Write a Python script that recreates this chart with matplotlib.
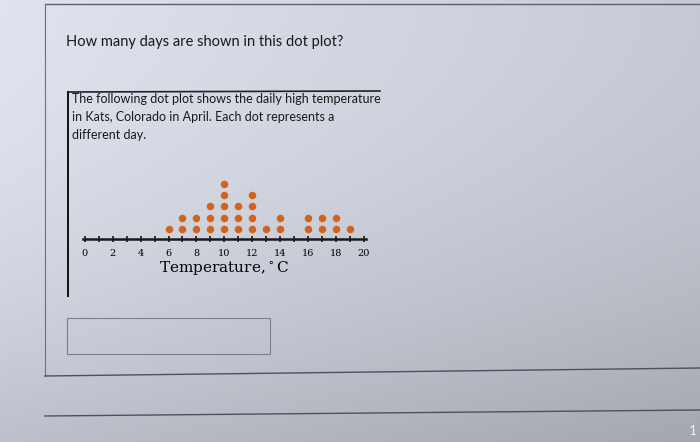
import numpy as np
import matplotlib.pyplot as plt
from matplotlib.patches import Rectangle
from matplotlib.ticker import MultipleLocator

# temperatures (deg C) and how many days had each daily high
temps = [6, 7, 8, 9, 10, 11, 12, 13, 14, 16, 17, 18, 19]
days = [1, 2, 2, 3, 5, 3, 4, 1, 2, 2, 2, 2, 1]

question = "How many days are shown in this dot plot?"
intro = ["The following dot plot shows the daily high temperature",
         "in Kats, Colorado in April. Each dot represents a",
         "different day."]
xlabel = "Temperature,$^\\circ$C"

W, H = 700, 442
fig = plt.figure(figsize=(W / 100, H / 100), dpi=100)

# photographed-screen background: light in the upper left, darker to the lower right
bg = fig.add_axes([0, 0, 1, 1])
gx, gy = np.meshgrid(np.linspace(0, 1, 200), np.linspace(0, 1, 200))
shade = 0.90 - 0.10 * gx - 0.14 * gy ** 2
rgb = np.dstack([shade * 0.97, shade * 0.99, shade * 1.04]).clip(0, 1)
bg.imshow(rgb, extent=[0, W, H, 0], aspect="auto")
bg.set_xlim(0, W)
bg.set_ylim(H, 0)
bg.axis("off")

# page outline and boxes
bg.plot([45, 700], [4, 4], color="#5a6270", lw=1)
bg.plot([45, 45], [4, 376], color="#6a7280", lw=0.8)
bg.plot([45, 700], [376, 368], color="#4a5260", lw=1)
bg.plot([45, 700], [416, 410], color="#4a5260", lw=1)
bg.plot([68, 380], [92, 91], color="#222222", lw=1.2)
bg.plot([68, 68], [92, 296], color="#111111", lw=1.4)
bg.add_patch(Rectangle((67, 318), 203, 36, fill=False, ec="#7a8090", lw=0.8))

bg.text(66, 42, question, fontsize=10.5, family="Lato", color="#1a1a1a", va="center")
for i, line in enumerate(intro):
    bg.text(72, 99 + 18 * i, line, fontsize=9, family="Lato", color="#1a1a1a", va="center")
bg.text(689, 431, "1", fontsize=10, family="Lato", color="#eeeeee", va="center")

# dot plot axes: 0..20 spans x = 82.7..366 px, axis line at y = 239 px
x0, x1, yax = 82.7, 366, 239
unit = 11.3
ax = fig.add_axes([x0 / W, 1 - yax / H, (x1 - x0) / W, 6 * unit / H])
ax.patch.set_alpha(0)
for t, n in zip(temps, days):
    ys = np.arange(1, n + 1) - 0.1
    ax.plot([t] * n, ys, "o", ms=5.4, color="#d4621a", mec="none")
ax.set_xlim(-0.15, 20.15)
ax.set_ylim(0, 6)
for s in ["top", "left", "right"]:
    ax.spines[s].set_visible(False)
ax.spines["bottom"].set_linewidth(1.8)
ax.spines["bottom"].set_color("#1a1a1a")
ax.xaxis.set_major_locator(MultipleLocator(2))
ax.xaxis.set_minor_locator(MultipleLocator(1))
ax.tick_params(axis="x", which="both", direction="inout", length=5, width=1.2,
               color="#1a1a1a", labelsize=7, pad=5)
ax.set_yticks([])
for lab in ax.get_xticklabels():
    lab.set_family("DejaVu Serif")
ax.set_xlabel(xlabel, fontsize=11, family="DejaVu Serif", labelpad=1)

fig.savefig("out.png", dpi=100)
